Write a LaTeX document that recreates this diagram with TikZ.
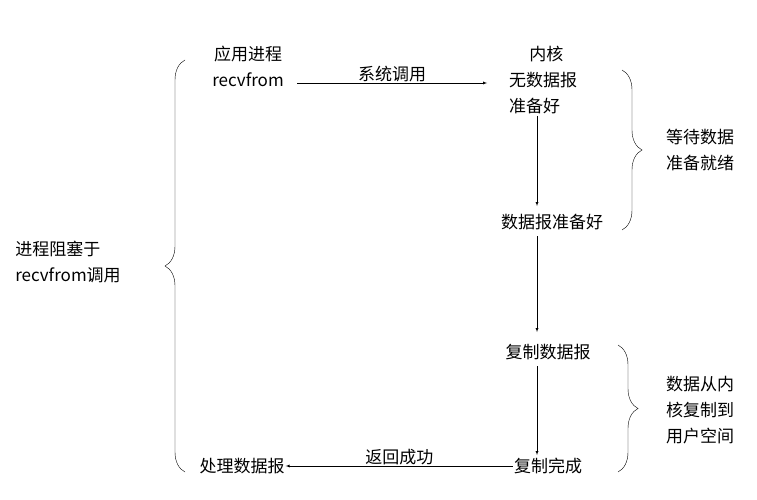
\documentclass[tikz,border=0pt]{standalone}
\usepackage{fontspec}
\setmainfont{Noto Sans CJK SC}
\usetikzlibrary{decorations.pathreplacing}
\begin{document}
\begin{tikzpicture}[x=1pt,y=-1pt,
  t/.style={font=\fontsize{17}{26}\selectfont,inner sep=1pt},
  ar/.style={-latex,thin},
  br/.style={thin,decorate,decoration={brace,amplitude=20pt}}]
\useasboundingbox (0,0) rectangle (757,500);
\node[t,align=center] (app) at (248,66) {应用进程\\recvfrom};
\node[t,align=left] (k1) at (543,80) {\hspace*{1.2em}内核\\无数据报\\准备好};
\node[t] (k2) at (552,222) {数据报准备好};
\node[t] (k3) at (548,352) {复制数据报};
\node[t] (k4) at (548,466) {复制完成};
\node[t] (p) at (242,466) {处理数据报};
\coordinate (a1) at (297,83);
\coordinate (a2) at (487,83);
\draw[ar] (a1) -- node[t,above]{系统调用} (a2);
\draw[ar] (537,116) -- (537,206);
\draw[ar] (537,236) -- (537,332);
\draw[ar] (537,366) -- (537,455);
\draw[ar] (k4.west) -- node[t,above]{返回成功} (p.east);
\draw[br] (185,472) -- (185,60);
\node[t,align=left] (l) at (68,262) {进程阻塞于\\recvfrom调用};
\draw[br] (622,70) -- (622,230);
\node[t,align=left] (r1) at (700,150) {等待数据\\准备就绪};
\draw[br] (618,345) -- (618,472);
\node[t,align=left] (r2) at (700,410) {数据从内\\核复制到\\用户空间};
\end{tikzpicture}
\end{document}
